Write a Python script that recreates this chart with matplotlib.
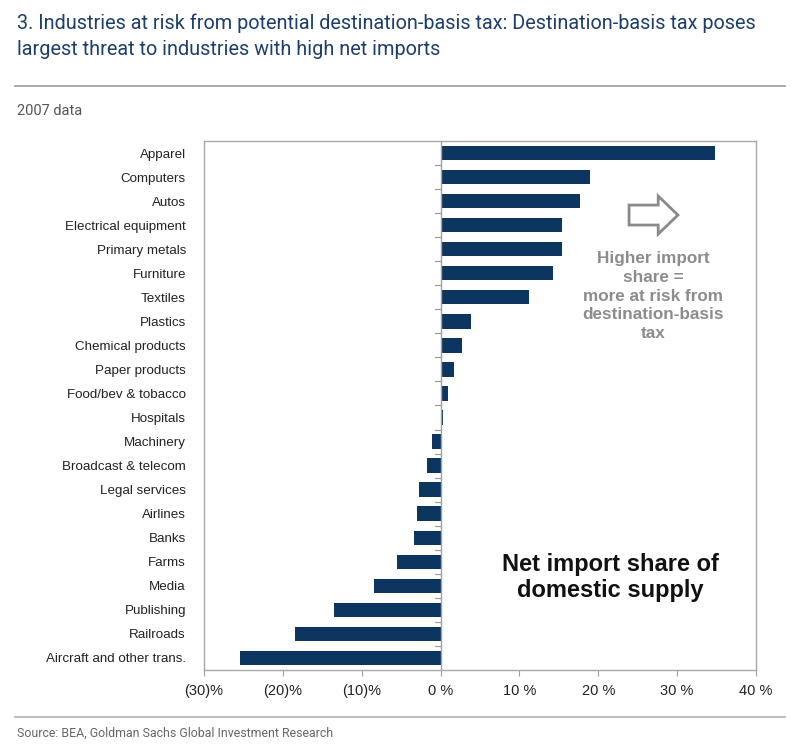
import matplotlib
matplotlib.use("Agg")
import matplotlib.pyplot as plt
import matplotlib.patches as mpatches
from matplotlib.lines import Line2D
from matplotlib.ticker import FixedLocator, FuncFormatter

# Net import share of domestic supply, 2007 (%)
industries = ['Apparel', 'Computers', 'Autos', 'Electrical equipment', 'Primary metals',
              'Furniture', 'Textiles', 'Plastics', 'Chemical products', 'Paper products',
              'Food/bev & tobacco', 'Hospitals', 'Machinery', 'Broadcast & telecom',
              'Legal services', 'Airlines', 'Banks', 'Farms', 'Media', 'Publishing',
              'Railroads', 'Aircraft and other trans.']
net_import_share = [34.8, 18.9, 17.7, 15.4, 15.4, 14.2, 11.2, 3.9, 2.7, 1.65,
                    1.0, 0.3, -1.1, -1.7, -2.7, -3.0, -3.4, -5.5, -8.4, -13.5,
                    -18.4, -25.4]
x_ticks = [-30, -20, -10, 0, 10, 20, 30, 40]

bar_color = '#0c3560'
title_color = '#1d3f6b'
narrow = ['Roboto', 'DejaVu Sans']
plt.rcParams['font.family'] = ['Liberation Sans', 'DejaVu Sans']

fig = plt.figure(figsize=(8, 7.44), dpi=100)
ax = fig.add_axes([0.255, 0.0995, 0.69, 0.711])

pos = list(range(len(industries)))
ax.barh(pos, net_import_share, height=0.6, color=bar_color, zorder=3)
ax.set_ylim(len(industries) - 0.5, -0.5)
ax.set_xlim(-30, 40)

# x axis
ax.xaxis.set_major_locator(FixedLocator(x_ticks))
ax.xaxis.set_major_formatter(FuncFormatter(
    lambda v, p: '({:d})%'.format(int(abs(v))) if v < 0 else '{:d} %'.format(int(v))))
ax.tick_params(axis='x', length=4, color='#a0a0a0', labelsize=10.5,
               labelcolor='#222222', pad=6)

# category labels on the left, boundary ticks drawn on the zero line
ax.set_yticks(pos)
ax.set_yticklabels(industries, fontsize=9.6, color='#222222')
ax.tick_params(axis='y', length=0, pad=13)
for b in range(1, len(industries)):
    ax.add_line(Line2D([-0.7, 0], [b - 0.5, b - 0.5], color='#a0a0a0', lw=0.9, zorder=2))
ax.axvline(0, color='#a0a0a0', lw=1, zorder=4)

for s in ax.spines.values():
    s.set_color('#a8a8a8')
    s.set_linewidth(1)

# outlined arrow and annotations
arrow = mpatches.FancyArrow(23.9, 2.58, 6.2, 0, width=0.83, head_width=1.58,
                            head_length=2.5, length_includes_head=True,
                            fill=False, edgecolor='#8a8a8a', lw=2, zorder=5)
ax.add_patch(arrow)
ax.text(27.0, 5.95, 'Higher import\nshare =\nmore at risk from\ndestination-basis\ntax',
        ha='center', va='center', fontsize=12.3, fontweight='bold', color='#8c8c8c',
        linespacing=1.3)
ax.text(21.5, 17.65, 'Net import share of\ndomestic supply', ha='center', va='center',
        fontsize=17, fontweight='bold', color='#111111', linespacing=1.2)

# header / footer
title = fig.text(0.021, 0.982, '3. Industries at risk from potential destination-basis tax: '
                 'Destination-basis tax poses\nlargest threat to industries with high net imports',
                 ha='left', va='top', fontsize=14, color=title_color, family=narrow,
                 linespacing=1.45)
fig.add_artist(Line2D([0.019, 0.981], [0.884, 0.884], color='#9a9a9a', lw=1.2))
sub = fig.text(0.021, 0.851, '2007 data', ha='left', va='center', fontsize=10,
               color='#555555', family=narrow)
fig.add_artist(Line2D([0.019, 0.981], [0.036, 0.036], color='#b0b0b0', lw=1.2))
src = fig.text(0.021, 0.015, 'Source: BEA, Goldman Sachs Global Investment Research',
               ha='left', va='center', fontsize=8.5, color='#666666', family=narrow)

# shrink the header/footer texts to the widths of the condensed font in the original
renderer = fig.canvas.get_renderer()
for t, width_px in [(title, 743), (sub, 65), (src, 313)]:
    w = t.get_window_extent(renderer).width
    t.set_fontsize(t.get_fontsize() * width_px / w)

fig.savefig('out.png', dpi=100, facecolor='white')
